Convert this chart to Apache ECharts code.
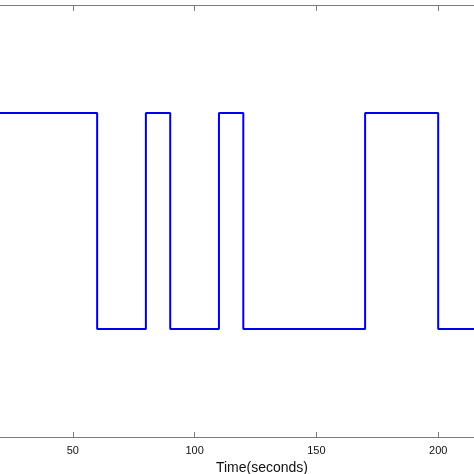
<!DOCTYPE html>
<html>
<head>
<meta charset="utf-8">
<script src="https://cdn.jsdelivr.net/npm/echarts@6/dist/echarts.min.js"></script>
<style>
html,body{margin:0;padding:0;background:#fff;overflow:hidden;width:474px;height:474px;position:relative}
#c{position:absolute;left:-49px;top:0;width:609px;height:474px}
</style>
</head>
<body>
<div id="c"></div>
<script>
// switch times (seconds) and signal level after each switch
const times = [0, 60, 80, 90, 110, 120, 170, 200, 250];
const levels = [1, 0, 1, 0, 1, 0, 1, 0, 0];
const xTicks = [0, 50, 100, 150, 200, 250];

const data = times.map((t, i) => [t, levels[i]]);
const chart = echarts.init(document.getElementById('c'), null, {renderer: 'canvas'});
const axisGray = '#7a7a7a';
chart.setOption({
  animation: false,
  backgroundColor: '#ffffff',
  grid: {left: 0, right: 0, top: 5, bottom: 37, containLabel: false, outerBoundsMode: 'none'},
  xAxis: [{
    type: 'value', min: xTicks[0], max: xTicks[xTicks.length - 1], interval: 50,
    position: 'bottom',
    name: 'Time(seconds)', nameLocation: 'middle', nameGap: 22,
    nameTextStyle: {fontFamily: 'Liberation Sans', fontSize: 14, color: '#111', padding: [0, 0, 0, 13]},
    axisLine: {show: true, onZero: false, lineStyle: {color: axisGray, width: 1.2}},
    axisTick: {show: true, inside: true, length: 5, lineStyle: {color: axisGray}},
    axisLabel: {fontFamily: 'Liberation Sans', fontSize: 11, color: '#111', margin: 8},
    splitLine: {show: false}
  }, {
    type: 'value', min: xTicks[0], max: xTicks[xTicks.length - 1], interval: 50,
    position: 'top',
    axisLine: {show: true, onZero: false, lineStyle: {color: axisGray, width: 1.2}},
    axisTick: {show: true, inside: true, length: 6, lineStyle: {color: axisGray}},
    axisLabel: {show: false},
    splitLine: {show: false}
  }],
  yAxis: {
    type: 'value', min: -0.5, max: 1.5, interval: 0.5,
    axisLine: {show: false}, axisTick: {show: false}, axisLabel: {show: false},
    splitLine: {show: false}
  },
  series: [{
    type: 'line', step: 'end', data: data, showSymbol: false, symbol: 'none',
    lineStyle: {color: '#0000e8', width: 2}
  }]
});
</script>
</body>
</html>
